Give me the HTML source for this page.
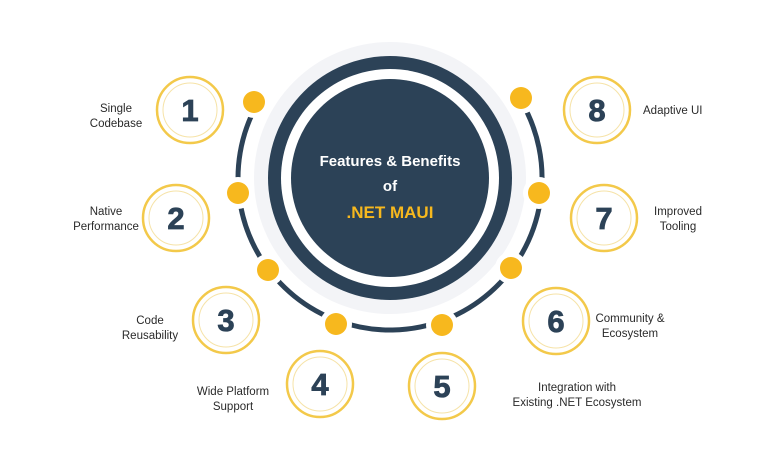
<!DOCTYPE html>
<html><head><meta charset="utf-8"><style>
html,body{margin:0;padding:0;background:#fff;}
svg{display:block;}
text{font-family:"Liberation Sans",sans-serif;}
</style></head><body>
<svg width="768" height="449" viewBox="0 0 768 449" xmlns="http://www.w3.org/2000/svg">
<rect width="768" height="449" fill="#fff"/>
<circle cx="390" cy="178" r="136" fill="#f3f4f7"/>
<path d="M520.3 99.7 A152 152 0 1 1 257.1 104.3" fill="none" stroke="#2c4257" stroke-width="5"/>
<g fill="#fff">
<circle cx="254" cy="102" r="16"/><circle cx="238" cy="193" r="16"/><circle cx="268" cy="270" r="16"/><circle cx="336" cy="324" r="16"/>
<circle cx="442" cy="325" r="16"/><circle cx="511" cy="268" r="16"/><circle cx="539" cy="193" r="16"/><circle cx="521" cy="98" r="16"/>
</g>
<g fill="#f7b81e">
<circle cx="254" cy="102" r="11"/><circle cx="238" cy="193" r="11"/><circle cx="268" cy="270" r="11"/><circle cx="336" cy="324" r="11"/>
<circle cx="442" cy="325" r="11"/><circle cx="511" cy="268" r="11"/><circle cx="539" cy="193" r="11"/><circle cx="521" cy="98" r="11"/>
</g>
<circle cx="390" cy="178" r="122" fill="#2c4257"/>
<circle cx="390" cy="178" r="109" fill="#fff"/>
<circle cx="390" cy="178" r="99" fill="#2c4257"/>
<text x="390" y="166" text-anchor="middle" font-size="15" font-weight="bold" fill="#fff">Features &amp; Benefits</text>
<text x="390" y="191" text-anchor="middle" font-size="15" font-weight="bold" fill="#fff">of</text>
<text x="390" y="218" text-anchor="middle" font-size="17" font-weight="bold" fill="#f7b81e">.NET MAUI</text>
<g fill="#fff" stroke="#f3c94a">
<circle cx="190" cy="110" r="33" stroke-width="2.5"/><circle cx="176" cy="218" r="33" stroke-width="2.5"/><circle cx="226" cy="320" r="33" stroke-width="2.5"/><circle cx="320" cy="384" r="33" stroke-width="2.5"/>
<circle cx="442" cy="386" r="33" stroke-width="2.5"/><circle cx="556" cy="321" r="33" stroke-width="2.5"/><circle cx="604" cy="218" r="33" stroke-width="2.5"/><circle cx="597" cy="110" r="33" stroke-width="2.5"/>
</g>
<g fill="none" stroke="#f6e3a8" stroke-width="1">
<circle cx="190" cy="110" r="27"/><circle cx="176" cy="218" r="27"/><circle cx="226" cy="320" r="27"/><circle cx="320" cy="384" r="27"/>
<circle cx="442" cy="386" r="27"/><circle cx="556" cy="321" r="27"/><circle cx="604" cy="218" r="27"/><circle cx="597" cy="110" r="27"/>
</g>
<g font-size="31" font-weight="bold" fill="#2c4257" text-anchor="middle" stroke="#2c4257" stroke-width="0.8">
<text x="190" y="121">1</text><text x="176" y="229">2</text><text x="226" y="331">3</text><text x="320" y="395">4</text>
<text x="442" y="397">5</text><text x="556" y="332">6</text><text x="604" y="229">7</text><text x="597" y="121">8</text>
</g>
<g font-size="11.5" fill="#2a2a2a" text-anchor="middle">
<text x="116" y="112">Single</text><text x="116" y="127">Codebase</text>
<text x="106" y="215">Native</text><text x="106" y="230">Performance</text>
<text x="150" y="324">Code</text><text x="150" y="339">Reusability</text>
<text x="233" y="395">Wide Platform</text><text x="233" y="410">Support</text>
<text x="577" y="391">Integration with</text><text x="577" y="406">Existing .NET Ecosystem</text>
<text x="630" y="322">Community &amp;</text><text x="630" y="337">Ecosystem</text>
<text x="678" y="215">Improved</text><text x="678" y="230">Tooling</text>
<text x="643" y="114" text-anchor="start">Adaptive UI</text>
</g>
</svg>
</body></html>
